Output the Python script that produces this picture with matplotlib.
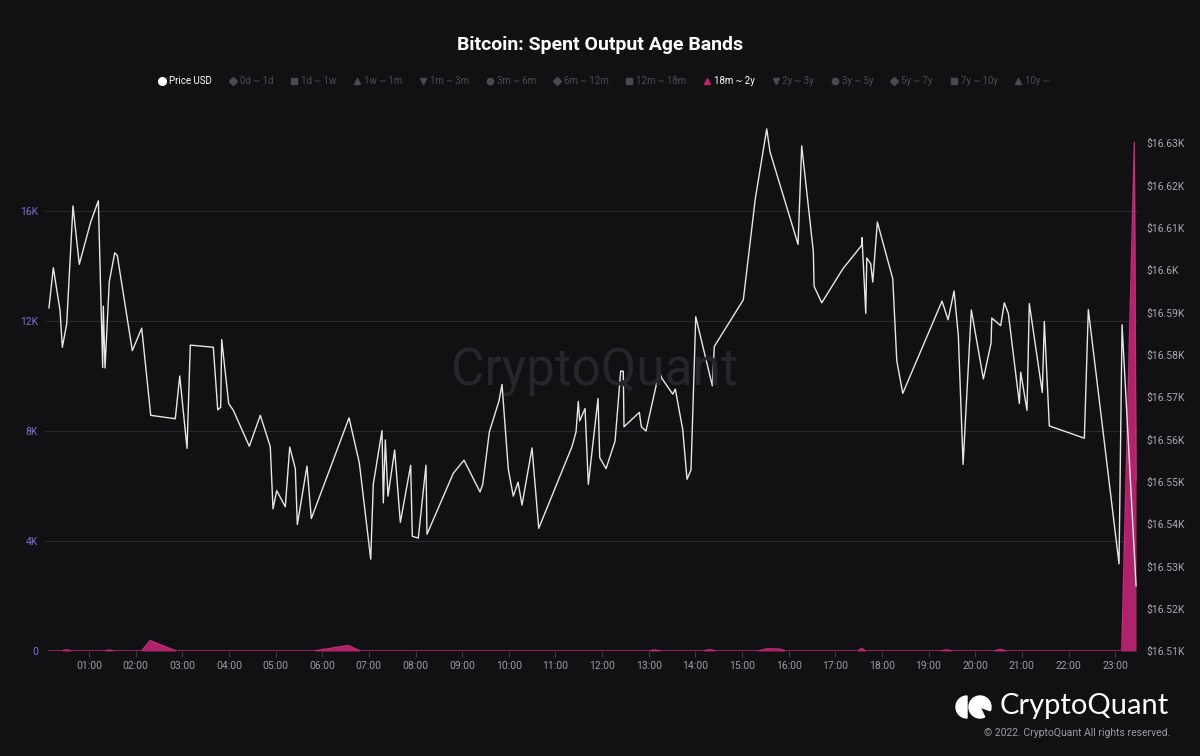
import numpy as np
import pandas as pd
import matplotlib
matplotlib.use("Agg")
import matplotlib.pyplot as plt
import matplotlib.dates as mdates
from matplotlib.lines import Line2D
from matplotlib.patches import Wedge

# ---- data ----
day = "2022-12-20"

# price USD, minutes after midnight
price_minute = [8.5, 14.1, 22.7, 25.7, 31.3, 39.4, 47.5, 62.2, 72.0, 77.6,
                78.4, 80.6, 86.1, 93.1, 96.4, 115.7, 127.8, 139.4, 171.0, 176.7,
                186.1, 190.3, 219.9, 225.6, 229.4, 230.7, 239.7, 245.6, 266.2, 280.4,
                293.2, 296.7, 301.5, 312.5, 318.2, 325.4, 328.0, 340.4, 346.0, 394.5,
                407.7, 422.4, 425.7, 436.9, 438.6, 441.2, 444.6, 453.2, 460.5, 473.8,
                475.9, 483.6, 493.5, 494.8, 528.6, 542.4, 563.0, 566.5, 575.0, 587.4,
                591.3, 599.4, 605.8, 611.9, 617.0, 629.9, 638.5, 681.3, 686.5, 689.4,
                691.2, 698.1, 702.3, 714.8, 717.0, 725.1, 736.7, 744.0, 747.3, 748.2,
                767.9, 770.5, 776.5, 793.6, 796.7, 810.9, 814.2, 823.7, 829.3, 834.4,
                840.5, 861.8, 864.4, 901.7, 917.1, 931.8, 936.0, 972.1, 976.8, 991.8,
                992.7, 1002.6, 1029.6, 1054.0, 1054.4, 1059.2, 1060.5, 1065.6, 1068.2, 1074.1,
                1093.9, 1099.1, 1106.8, 1157.3, 1165.1, 1172.8, 1178.3, 1184.4, 1195.0, 1210.5,
                1220.4, 1221.3, 1232.8, 1237.4, 1242.6, 1256.8, 1258.5, 1266.6, 1269.6, 1286.3,
                1288.9, 1295.3, 1340.4, 1345.5, 1385.0, 1388.9, 1406.9]
price_usd = [16591.1, 16600.6, 16590.5, 16581.8, 16587.3, 16615.2, 16601.4, 16611.4, 16616.4, 16577.0,
             16591.5, 16576.9, 16597.3, 16604.1, 16603.5, 16581.0, 16586.3, 16565.7, 16564.9, 16575.0,
             16557.9, 16582.3, 16581.8, 16567.0, 16567.6, 16583.6, 16568.5, 16566.9, 16558.4, 16565.7,
             16558.3, 16543.6, 16547.9, 16544.1, 16558.2, 16553.1, 16539.9, 16553.7, 16541.3, 16565.1,
             16554.5, 16531.7, 16549.4, 16562.1, 16545.0, 16559.9, 16546.6, 16557.5, 16540.4, 16553.9,
             16537.1, 16536.7, 16553.9, 16537.6, 16552.0, 16555.1, 16547.6, 16549.4, 16561.8, 16569.1,
             16573.0, 16552.9, 16546.6, 16549.9, 16544.5, 16558.0, 16539.0, 16558.3, 16561.8, 16569.0,
             16564.4, 16567.3, 16549.4, 16569.7, 16555.7, 16553.1, 16559.6, 16576.2, 16576.1, 16563.0,
             16566.4, 16563.0, 16562.0, 16576.1, 16574.5, 16570.7, 16571.9, 16562.4, 16550.6, 16552.8,
             16589.0, 16572.7, 16582.0, 16593.0, 16616.9, 16633.4, 16628.0, 16606.1, 16629.4, 16604.3,
             16596.2, 16592.3, 16600.3, 16605.9, 16607.7, 16589.8, 16602.9, 16601.5, 16597.2, 16611.4,
             16598.0, 16578.6, 16570.9, 16592.7, 16588.3, 16595.1, 16584.5, 16554.1, 16590.6, 16574.3,
             16582.8, 16588.7, 16586.9, 16592.3, 16589.8, 16568.5, 16575.9, 16566.9, 16592.1, 16571.1,
             16587.9, 16563.2, 16560.3, 16590.7, 16530.6, 16587.1, 16525.4]

# 18m ~ 2y spent output (BTC)
band_minute = [8.5, 25.0, 31.7, 38.0, 80.0, 86.0, 92.0, 127.7, 138.6, 172.0,
               349.5, 393.3, 408.6, 780.0, 788.0, 796.0, 850.0, 858.0, 866.0, 920.0,
               933.0, 948.0, 956.0, 1049.0, 1054.0, 1059.0, 1155.0, 1163.0, 1171.0, 1224.0,
               1232.0, 1240.0, 1388.5, 1404.7, 1406.9]
band_btc = [0, 0, 50, 0, 0, 40, 0, 0, 380, 0,
            0, 200, 0, 0, 40, 0, 0, 50, 0, 0,
            80, 70, 0, 0, 100, 0, 0, 40, 0, 0,
            60, 0, 0, 18500, 6200]

legend_labels = ["Price USD", "0d ~ 1d", "1d ~ 1w", "1w ~ 1m", "1m ~ 3m", "3m ~ 6m",
                 "6m ~ 12m", "12m ~ 18m", "18m ~ 2y", "2y ~ 3y", "3y ~ 5y",
                 "5y ~ 7y", "7y ~ 10y", "10y ~"]
legend_markers = ["o", "D", "s", "^", "v", "o", "D", "s", "^", "v", "o", "D", "s", "^"]

# ---- style ----
BG = "#111114"
GRID = "#2a2a30"
PINK = "#b8256f"
DIM = "#4a4a54"

plt.rcParams["font.family"] = ["Roboto", "DejaVu Sans"]

base = pd.Timestamp(day)
t_price = base + pd.to_timedelta(price_minute, unit="min")
t_band = base + pd.to_timedelta(band_minute, unit="min")

fig = plt.figure(figsize=(12, 7.56), dpi=100, facecolor=BG)
ax = fig.add_axes([45 / 1200, 105 / 756, 1093 / 1200, 550 / 756])
ax.set_facecolor(BG)

ax.fill_between(t_band, band_btc, 0, color=PINK, lw=0, alpha=0.95, zorder=2)
ax.plot(t_band, band_btc, color="#c82a7b", lw=1.0, zorder=3)
ax.set_ylim(0, 20000)
ax.set_yticks([0, 4000, 8000, 12000, 16000])
ax.set_yticklabels(["0", "4K", "8K", "12K", "16K"])
for yv in [4000, 8000, 12000, 16000]:
    ax.axhline(yv, color=GRID, lw=0.8, zorder=1)

ax.set_xlim(base + pd.Timedelta(minutes=3.4), base + pd.Timedelta(minutes=1409.4))
ax.xaxis.set_major_locator(mdates.HourLocator(byhour=range(1, 24)))
ax.xaxis.set_major_formatter(mdates.DateFormatter("%H:%M"))

ax.tick_params(axis="y", colors="#7474d0", labelsize=7.5, length=0, pad=5)
ax.tick_params(axis="x", colors="#3a3a42", labelcolor="#9a9aa2", labelsize=7.5,
               length=4, width=0.8, pad=3)
for s in ax.spines.values():
    s.set_visible(False)

ax2 = ax.twinx()
ax2.plot(t_price, price_usd, color="#e6e6e6", lw=1.0, zorder=4)
ax2.set_ylim(16510, 16640)
rticks = np.arange(16510, 16631, 10)
ax2.set_yticks(rticks)
ax2.set_yticklabels([f"${round(v / 1000, 3):g}K" for v in rticks])
ax2.tick_params(axis="y", colors="#a8a8b0", labelsize=7.5, length=0, pad=6)
for s in ax2.spines.values():
    s.set_visible(False)

# watermark
fig.text(594 / 1200, 1 - 372 / 756, "CryptoQuant", color="#25252b", fontsize=37,
         ha="center", va="center", zorder=0)

# title
fig.text(0.5, 1 - 45 / 756, "Bitcoin: Spent Output Age Bands", color="white",
         fontsize=14, fontweight="bold", ha="center", va="center")

# legend
handles = []
for i, (lab, mk) in enumerate(zip(legend_labels, legend_markers)):
    if i == 0:
        c = "white"
    elif lab == "18m ~ 2y":
        c = PINK
    else:
        c = DIM
    handles.append(Line2D([], [], marker=mk, color=c, linestyle="none",
                          markersize=5.5 if i == 0 else 4.5))
leg = fig.legend(handles, legend_labels, ncol=len(legend_labels), loc="center",
                 bbox_to_anchor=(0.503, 1 - 81 / 756), frameon=False, fontsize=7,
                 handletextpad=0.2, columnspacing=1.65, handlelength=1.0)
for txt, lab in zip(leg.get_texts(), legend_labels):
    txt.set_color("white" if lab in ("Price USD", "18m ~ 2y") else DIM)

# logo
lax = fig.add_axes([950 / 1200, 1 - 724 / 756, 44 / 1200, 34 / 756])
lax.set_xlim(0, 44)
lax.set_ylim(0, 34)
lax.set_aspect("equal")
lax.axis("off")
lax.add_patch(Wedge((17, 17), 11, 90, 270, color="white"))
lax.add_patch(Wedge((30, 17), 11, -20, 295, color="white"))
fig.text(1000 / 1200, 1 - 706 / 756, "CryptoQuant", color="white", fontsize=21,
         ha="left", va="center", family=["Lato", "DejaVu Sans"])
fig.text(1170 / 1200, 1 - 733 / 756, "\u00a9 2022. CryptoQuant All rights reserved.",
         color="#9a9aa2", fontsize=7.5, ha="right", va="center")

fig.savefig("out.png", dpi=100, facecolor=BG)
